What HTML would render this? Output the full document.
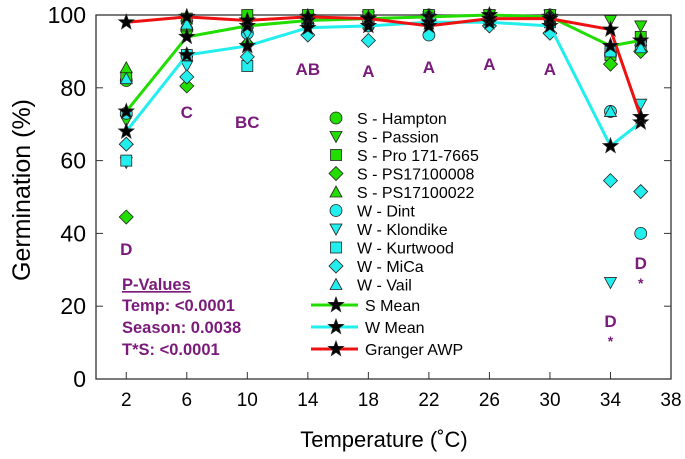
<!DOCTYPE html>
<html><head><meta charset="utf-8"><style>
body{margin:0;background:#fff}
svg{display:block;font-family:"Liberation Sans",sans-serif}
</style></head><body>
<svg id="chart" width="685" height="459" viewBox="0 0 685 459">
<g id="axes"></g><g id="marks"></g><g id="ann"></g>
</svg>
<script>
const temps=[2,6,10,14,18,22,26,30,34,36];
const sHampton=[82,96,99,99.5,99.5,100,100,100,89,93];
const sPassion=[71,97,98,99,99.5,99.5,100,100,98.5,97];
const sPro=[83,99,100,100,100,100,100,100,89,94];
const sPS08=[44.5,80.5,92,99,99,99.5,99.5,99.5,86.5,90];
const sPS22=[85.5,97,93,99,99.5,99.5,100,100,91,93];
const wDint=[73,89,95,97.5,97,94.5,98.5,99,73.5,40];
const wKlondike=[59.5,86,95,98,98.5,99,98,98,26.5,75.5];
const wKurtwood=[60,89,86,98,98,99,98.5,98,90,92];
const wMiCa=[64.5,83,88.5,94.5,93,99,97,95,54.5,51.5];
const wVail=[82.5,97.5,98,99,98.5,99,99,99,73.5,91];
const sMean=[73.5,94,97,98.5,99,99.5,100,99.5,91.5,93];
const wMean=[68,89,91.5,96.5,97,98,98,97,64,70.5];
const granger=[98,99.5,98.5,99.5,99,97,99,99,96,72];
const xTicks=[2,6,10,14,18,22,26,30,34,38];
const yTicks=[0,20,40,60,80,100];
const letters=["D","C","BC","AB","A","A","A","A","D*","D*"];

const NS="http://www.w3.org/2000/svg";
const X=v=>96+v*(575/38), Y=v=>379-v*3.64;
function mk(p,t,a){const e=document.createElementNS(NS,t);for(const k in a)e.setAttribute(k,a[k]);p.appendChild(e);return e;}
const axes=document.getElementById('axes'),marks=document.getElementById('marks'),ann=document.getElementById('ann');
const frame=mk(axes,'rect',{x:96,y:15,width:575,height:364,fill:'none',stroke:'#333','stroke-width':1.3});


xTicks.forEach(t=>{
  const l=mk(axes,'line',{x1:X(t),x2:X(t),y1:379,y2:372,stroke:'#333'});
  
  
  const tx=mk(axes,'text',{x:X(t),y:406,'text-anchor':'middle','font-size':19,fill:'#000'});tx.textContent=t;
  
  
});
yTicks.forEach(t=>{
  const l=mk(axes,'line',{x1:96,x2:103,y1:Y(t),y2:Y(t),stroke:'#333'});
  
  
  const l2=mk(axes,'line',{x1:671,x2:664,y1:Y(t),y2:Y(t),stroke:'#333'});
  
  
  const tx=mk(axes,'text',{x:86,y:Y(t)+8,'text-anchor':'end','font-size':23,fill:'#000'});tx.textContent=t;
  
  
});
const yl=mk(axes,'text',{x:0,y:0,transform:'translate(30,190) rotate(-90)','text-anchor':'middle','font-size':25});yl.textContent='Germination (%)';


const xl=mk(axes,'text',{x:384,y:447,'text-anchor':'middle','font-size':22});xl.textContent='Temperature (˚C)';



const G='#22dd00',C='#22eeee';
function marker(p,shape,x,y,fill,s){
  s=s||6;let e;
  if(shape==='circle')e=mk(p,'circle',{cx:x,cy:y,r:s});
  else if(shape==='square')e=mk(p,'rect',{x:x-s+0.5,y:y-s+0.5,width:2*s-1,height:2*s-1});
  else if(shape==='diamond')e=mk(p,'polygon',{points:`${x},${y-s-1} ${x+s+1},${y} ${x},${y+s+1} ${x-s-1},${y}`});
  else if(shape==='down')e=mk(p,'polygon',{points:`${x-s},${y-s+1} ${x+s},${y-s+1} ${x},${y+s}`});
  else if(shape==='up')e=mk(p,'polygon',{points:`${x-s},${y+s-1} ${x+s},${y+s-1} ${x},${y-s}`});
  else if(shape==='star'){let pts=[];for(let i=0;i<10;i++){const r=i%2?3.3:8,a=-Math.PI/2+i*Math.PI/5;pts.push((x+r*Math.cos(a)).toFixed(1)+','+(y+r*Math.sin(a)).toFixed(1));}e=mk(p,'polygon',{points:pts.join(' ')});}
  e.setAttribute('fill',fill);e.setAttribute('stroke','#222');e.setAttribute('stroke-width',0.8);
  return e;
}
const series=[
 ['s-hampton',sHampton,'circle',G],['s-passion',sPassion,'down',G],['s-pro',sPro,'square',G],['s-ps17100008',sPS08,'diamond',G],['s-ps17100022',sPS22,'up',G],
 ['w-dint',wDint,'circle',C],['w-klondike',wKlondike,'down',C],['w-kurtwood',wKurtwood,'square',C],['w-mica',wMiCa,'diamond',C],['w-vail',wVail,'up',C]];
series.forEach(([n,arr,sh,col])=>{arr.forEach((v,i)=>{
  const m=marker(marks,sh,X(temps[i]),Y(v),col);
  
  
});});
[['s-mean',sMean,G],['w-mean',wMean,C],['granger-awp',granger,'#ee1111']].forEach(([n,arr,col])=>{
  const pl=mk(marks,'polyline',{points:arr.map((v,i)=>X(temps[i])+','+Y(v)).join(' '),fill:'none',stroke:col,'stroke-width':3});
  
  
});
[sMean,wMean,granger].forEach(arr=>arr.forEach((v,i)=>{
  const m=marker(marks,'star',X(temps[i]),Y(v),'#000');
  
  
}));
const letterY=[248,111,121,68,70,66,63,68,320,262];
letters.forEach((L,i)=>{
  const t=mk(ann,'text',{x:X(temps[i]),y:letterY[i]+7,'text-anchor':'middle','font-size':17,'font-weight':'bold',fill:'#7a1a7a'});t.textContent=L.replace('*','');
  
  
  if(L.includes('*')){const s=mk(ann,'text',{x:X(temps[i]),y:letterY[i]+26,'text-anchor':'middle','font-size':14,'font-weight':'bold',fill:'#7a1a7a'});s.textContent='*';
  
  }
});
const pv=[['P-Values',290],['Temp: <0.0001',311],['Season: 0.0038',333],['T*S: <0.0001',355]];
pv.forEach(([s,y],i)=>{const t=mk(ann,'text',{x:122,y:y,'font-size':16.5,'font-weight':'bold',fill:'#7a1a7a'});t.textContent=s;
  if(i===0)t.setAttribute('text-decoration','underline');
  
  });
const legNames=['S - Hampton','S - Passion','S - Pro 171-7665','S - PS17100008','S - PS17100022','W - Dint','W - Klondike','W - Kurtwood','W - MiCa','W - Vail'];
legNames.forEach((n,i)=>{const y=118+i*18.5;
  const m=marker(ann,series[i][2],336,y,series[i][3]);
  
  
  const t=mk(ann,'text',{x:357,y:y+6,'font-size':16});t.textContent=n;
  
  });
[['S Mean',G,305],['W Mean',C,327],['Granger AWP','#ee1111',349]].forEach(([n,col,y])=>{
  const l=mk(ann,'line',{x1:311,x2:358,y1:y,y2:y,stroke:col,'stroke-width':3});
  
  
  const m=marker(ann,'star',336,y,'#000');
  
  
  const t=mk(ann,'text',{x:365,y:y+6,'font-size':16});t.textContent=n;
  
  });
</script>
</body></html>
